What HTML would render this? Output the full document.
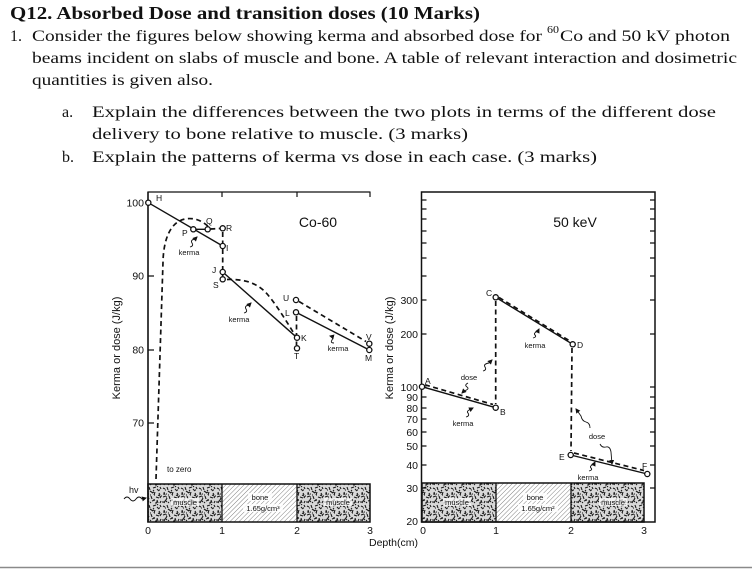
<!DOCTYPE html>
<html><head><meta charset="utf-8">
<style>
html,body{margin:0;padding:0;background:#fff;}
svg{display:block;}
.s{font-family:"Liberation Serif",serif;fill:#111;}
.h{font-family:"Liberation Sans",sans-serif;fill:#111;}
</style></head>
<body>
<svg width="752" height="569" viewBox="0 0 752 569" xmlns="http://www.w3.org/2000/svg">
<defs>
  <pattern id="mus" width="18" height="18" patternUnits="userSpaceOnUse">
    <rect width="18" height="18" fill="#d8d8d8"/>
    <path d="M1,2 l2,1 M5,1 l1,3 M9,2 l3,-1 M13,3 l2,2 M2,6 l1,3 M6,5 l3,2 M11,6 l-1,3 M15,7 l1,2 M1,11 l3,-1 M7,10 l1,3 M12,11 l3,1 M3,14 l2,2 M8,15 l3,-1 M13,14 l1,3 M16,12 l1,-2 M4,8 l1,0 M10,13 l0,1 M0,16 l2,0 M16,1 l1,2 M8,7 l2,-1 M5,12 l-1,2 M14,9 l2,1 M11,17 l2,0 M2,17 l1,-2 M17,15 l-1,2 M9,4 l1,1 M6,16 l1,1 M13,0 l1,1" stroke="#1a1a1a" stroke-width="1.1" fill="none"/>
    <path d="M3,4 h0.8 M10,9 h0.8 M15,4 h0.8 M6,9 h0.8 M12,16 h0.8 M1,8 h0.8 M17,10 h0.8 M4,11 h0.8" stroke="#111" stroke-width="1.2"/>
  </pattern>
  <pattern id="bone" width="3.2" height="3.2" patternUnits="userSpaceOnUse" patternTransform="rotate(45)">
    <rect width="3.2" height="3.2" fill="#fff"/>
    <line x1="0" y1="0" x2="0" y2="3.2" stroke="#666" stroke-width="0.8"/>
  </pattern>
  <marker id="ar" markerWidth="5" markerHeight="5" refX="4" refY="2.5" orient="auto" markerUnits="userSpaceOnUse">
    <path d="M0,0 L5,2.5 L0,5 z" fill="#111"/>
  </marker>
</defs>

<!-- ===== Text block ===== -->
<text class="s" x="10" y="19" font-size="18" font-weight="bold" textLength="470" lengthAdjust="spacingAndGlyphs">Q12. Absorbed Dose and transition doses (10 Marks)</text>
<text class="s" x="10" y="41" font-size="16">1.</text>
<text class="s" x="32" y="41" font-size="16" textLength="510" lengthAdjust="spacingAndGlyphs">Consider the figures below showing kerma and absorbed dose for</text>
<text class="s" x="547" y="33" font-size="10" textLength="12" lengthAdjust="spacingAndGlyphs">60</text>
<text class="s" x="560" y="41" font-size="16" textLength="170" lengthAdjust="spacingAndGlyphs">Co and 50 kV photon</text>
<text class="s" x="32" y="63" font-size="16" textLength="705" lengthAdjust="spacingAndGlyphs">beams incident on slabs of muscle and bone. A table of relevant interaction and dosimetric</text>
<text class="s" x="32" y="85" font-size="16" textLength="181" lengthAdjust="spacingAndGlyphs">quantities is given also.</text>
<text class="s" x="62" y="117" font-size="16">a.</text>
<text class="s" x="92" y="117" font-size="16" textLength="624" lengthAdjust="spacingAndGlyphs">Explain the differences between the two plots in terms of the different dose</text>
<text class="s" x="92" y="139" font-size="16" textLength="376" lengthAdjust="spacingAndGlyphs">delivery to bone relative to muscle. (3 marks)</text>
<text class="s" x="62" y="162" font-size="16">b.</text>
<text class="s" x="92" y="162" font-size="16" textLength="505" lengthAdjust="spacingAndGlyphs">Explain the patterns of kerma vs dose in each case. (3 marks)</text>

<!-- ===== LEFT CHART (Co-60) ===== -->
<g>
  <rect x="148" y="484" width="74" height="38" fill="url(#mus)"/>
  <rect x="222" y="484" width="75" height="38" fill="url(#bone)"/>
  <rect x="297" y="484" width="73" height="38" fill="url(#mus)"/>
  <rect x="148" y="484" width="222" height="38" fill="none" stroke="#111" stroke-width="1.5"/>
  <line x1="222" y1="484" x2="222" y2="522" stroke="#111" stroke-width="1.3"/>
  <line x1="297" y1="484" x2="297" y2="522" stroke="#111" stroke-width="1.3"/>
  <rect x="171" y="498" width="28" height="8" fill="#fff" opacity="0.7"/>
  <text class="h" x="185" y="505" font-size="7.5" text-anchor="middle">muscle</text>
  <rect x="248" y="493" width="24" height="8" fill="#fff" opacity="0.8"/>
  <text class="h" x="260" y="500" font-size="7.5" text-anchor="middle">bone</text>
  <rect x="243" y="504" width="40" height="8" fill="#fff" opacity="0.8"/>
  <text class="h" x="263" y="511" font-size="7.5" text-anchor="middle">1.65g/cm³</text>
  <rect x="324" y="498" width="28" height="8" fill="#fff" opacity="0.7"/>
  <text class="h" x="338" y="505" font-size="7.5" text-anchor="middle">muscle</text>

  <line x1="148" y1="191.5" x2="148" y2="522.5" stroke="#111" stroke-width="1.6"/>
  <line x1="148" y1="192" x2="370.5" y2="192" stroke="#111" stroke-width="1.2"/>
  <path d="M222,192 v5 M297,192 v5 M370,192 v5" stroke="#111" stroke-width="1.2"/>
  <path d="M148,276 h6 M148,350 h6 M148,423 h6" stroke="#111" stroke-width="1.2"/>
  <text class="h" x="144" y="206.5" font-size="10.5" text-anchor="end">100</text>
  <text class="h" x="144" y="279.5" font-size="10.5" text-anchor="end">90</text>
  <text class="h" x="144" y="353.5" font-size="10.5" text-anchor="end">80</text>
  <text class="h" x="144" y="426.5" font-size="10.5" text-anchor="end">70</text>
  <text class="h" font-size="11" text-anchor="middle" transform="translate(120,348) rotate(-90)">Kerma or dose (J/kg)</text>
  <text class="h" x="148" y="534" font-size="10.5" text-anchor="middle">0</text>
  <text class="h" x="222" y="534" font-size="10.5" text-anchor="middle">1</text>
  <text class="h" x="297" y="534" font-size="10.5" text-anchor="middle">2</text>
  <text class="h" x="370" y="534" font-size="10.5" text-anchor="middle">3</text>

  <text class="h" x="129" y="493" font-size="9">hv</text>
  <path d="M124,499 q3,-4 6,0 q3,4 6,0 q3,-4 6,0 l4,-1" stroke="#111" stroke-width="0.9" fill="none" marker-end="url(#ar)"/>

  <g stroke="#111" stroke-width="1.7" fill="none" stroke-dasharray="5,3.5">
    <path d="M156,479 L163,262 C163.5,240 170,222 185,219 C196,217 204,222 211,229 L220,228.5"/>
    <path d="M222.7,232 L222.7,276"/>
    <path d="M227,279.5 C245,279 258,283 268,295 C278,307 288,324 295,335"/>
    <path d="M296.5,316 L296.5,345"/>
    <path d="M299,301.5 L366,341.5"/>
  </g>
  <g stroke="#111" stroke-width="1.4" fill="none">
    <path d="M148.3,202.7 L222.7,246"/>
    <path d="M222.7,272 L297,337.7"/>
    <path d="M296,312.3 L369.3,350"/>
    <path d="M196,229.3 L205,229.3"/>
  </g>
  <g fill="#fff" stroke="#111" stroke-width="1.3">
    <circle cx="148.3" cy="202.7" r="2.6"/>
    <circle cx="193.3" cy="229.3" r="2.6"/>
    <circle cx="207.7" cy="229.3" r="2.6"/>
    <circle cx="222.7" cy="228.3" r="2.6"/>
    <circle cx="222.7" cy="246" r="2.6"/>
    <circle cx="222.7" cy="272" r="2.6"/>
    <circle cx="222.7" cy="279.3" r="2.6"/>
    <circle cx="297" cy="337.7" r="2.6"/>
    <circle cx="297" cy="348.3" r="2.6"/>
    <circle cx="296" cy="312.3" r="2.6"/>
    <circle cx="296" cy="300" r="2.6"/>
    <circle cx="369.3" cy="343.7" r="2.6"/>
    <circle cx="369.3" cy="350" r="2.6"/>
  </g>
  <g class="h" font-size="8.5">
    <text x="156" y="201">H</text>
    <text x="182" y="236">P</text>
    <text x="206" y="224">Q</text>
    <text x="226" y="231">R</text>
    <text x="226" y="251">I</text>
    <text x="212" y="273">J</text>
    <text x="213" y="288">S</text>
    <text x="301" y="341">K</text>
    <text x="294" y="359">T</text>
    <text x="285" y="316">L</text>
    <text x="283" y="301">U</text>
    <text x="366" y="340">V</text>
    <text x="365" y="361">M</text>
  </g>
  <g class="h" font-size="7.5" text-anchor="middle">
    <text x="189" y="255">kerma</text>
    <text x="239" y="322">kerma</text>
    <text x="338" y="351">kerma</text>
  </g>
  <g stroke="#111" stroke-width="0.9" fill="none" marker-end="url(#ar)">
    <path d="M190,247 q4,-1 2,-4 q-2,-3 3,-4 l2,-2"/>
    <path d="M244,313 q4,-1 2,-4 q-2,-3 3,-4 l2,-2"/>
    <path d="M334,343 q-4,0 -2,-3 q2,-3 -2,-4"/>
  </g>
  <text class="h" x="318" y="227" font-size="14" text-anchor="middle">Co-60</text>
  <text class="h" x="167" y="472" font-size="8">to zero</text>
</g>

<!-- ===== RIGHT CHART (50 keV) ===== -->
<g>
  <rect x="422" y="483" width="74" height="39" fill="url(#mus)"/>
  <rect x="496" y="483" width="75" height="39" fill="url(#bone)"/>
  <rect x="571" y="483" width="73" height="39" fill="url(#mus)"/>
  <rect x="422" y="483" width="222" height="39" fill="none" stroke="#111" stroke-width="1.5"/>
  <line x1="496" y1="483" x2="496" y2="522" stroke="#111" stroke-width="1.3"/>
  <line x1="571" y1="483" x2="571" y2="522" stroke="#111" stroke-width="1.3"/>
  <rect x="443" y="498" width="28" height="8" fill="#fff" opacity="0.7"/>
  <text class="h" x="457" y="505" font-size="7.5" text-anchor="middle">muscle</text>
  <rect x="523" y="493" width="24" height="8" fill="#fff" opacity="0.8"/>
  <text class="h" x="535" y="500" font-size="7.5" text-anchor="middle">bone</text>
  <rect x="518" y="504" width="40" height="8" fill="#fff" opacity="0.8"/>
  <text class="h" x="538" y="511" font-size="7.5" text-anchor="middle">1.65g/cm²</text>
  <rect x="599" y="498" width="28" height="8" fill="#fff" opacity="0.7"/>
  <text class="h" x="613" y="505" font-size="7.5" text-anchor="middle">muscle</text>

  <rect x="421.5" y="192" width="233.5" height="330" fill="none" stroke="#111" stroke-width="1.5"/>
  <path d="M421.5,200 h5 M421.5,209 h5 M421.5,219 h5 M421.5,231 h5 M421.5,243 h5 M421.5,258 h5 M421.5,276 h5 M421.5,300 h5 M421.5,334 h5 M421.5,387 h5 M421.5,397 h5 M421.5,408 h5 M421.5,419 h5 M421.5,432 h5 M421.5,446 h5 M421.5,465 h5 M421.5,488 h5"
        stroke="#111" stroke-width="1.2"/>
  <path d="M655,200 h-5 M655,209 h-5 M655,219 h-5 M655,231 h-5 M655,243 h-5 M655,258 h-5 M655,276 h-5 M655,300 h-5 M655,334 h-5 M655,387 h-5 M655,397 h-5 M655,408 h-5 M655,419 h-5 M655,432 h-5 M655,446 h-5 M655,465 h-5 M655,488 h-5"
        stroke="#111" stroke-width="1.2"/>
  <g class="h" font-size="10.5" text-anchor="end">
    <text x="418" y="304">300</text>
    <text x="418" y="338">200</text>
    <text x="418" y="391">100</text>
    <text x="418" y="401">90</text>
    <text x="418" y="412">80</text>
    <text x="418" y="423">70</text>
    <text x="418" y="436">60</text>
    <text x="418" y="450">50</text>
    <text x="418" y="469">40</text>
    <text x="418" y="492">30</text>
    <text x="418" y="525">20</text>
  </g>
  <text class="h" font-size="11" text-anchor="middle" transform="translate(393,348) rotate(-90)">Kerma or dose (J/kg)</text>
  <g class="h" font-size="10.5" text-anchor="middle">
    <text x="423" y="534">0</text>
    <text x="496" y="534">1</text>
    <text x="571" y="534">2</text>
    <text x="644" y="534">3</text>
  </g>
  <text class="h" x="369" y="546" font-size="10.5">Depth(cm)</text>

  <g stroke="#111" stroke-width="1.7" fill="none" stroke-dasharray="5,3.5">
    <path d="M425,384.8 L493,404.5"/>
    <path d="M495.7,301 L495.7,404"/>
    <path d="M499,297.5 L569,340.5"/>
    <path d="M572,348 L571,451"/>
    <path d="M574,453 L644,470.5"/>
  </g>
  <g stroke="#111" stroke-width="1.4" fill="none">
    <path d="M422,386.7 L495.7,407.7"/>
    <path d="M495.7,297.3 L572.7,344.3"/>
    <path d="M570.7,455 L647.3,474"/>
  </g>
  <g fill="#fff" stroke="#111" stroke-width="1.3">
    <circle cx="422" cy="386.7" r="2.6"/>
    <circle cx="495.7" cy="407.7" r="2.6"/>
    <circle cx="495.7" cy="297.3" r="2.6"/>
    <circle cx="572.7" cy="344.3" r="2.6"/>
    <circle cx="570.7" cy="455" r="2.6"/>
    <circle cx="647.3" cy="474" r="2.6"/>
  </g>
  <g class="h" font-size="8.5">
    <text x="425" y="384">A</text>
    <text x="500" y="415">B</text>
    <text x="486" y="296">C</text>
    <text x="577" y="348">D</text>
    <text x="559" y="460">E</text>
    <text x="642" y="469">F</text>
  </g>
  <g class="h" font-size="7.5" text-anchor="middle">
    <text x="469" y="380">dose</text>
    <text x="463" y="426">kerma</text>
    <text x="535" y="348">kerma</text>
    <text x="597" y="439">dose</text>
    <text x="588" y="480">kerma</text>
  </g>
  <g stroke="#111" stroke-width="0.9" fill="none" marker-end="url(#ar)">
    <path d="M468,383 q-4,2 -1,4 q3,2 -3,4 l-2,2"/>
    <path d="M466,417 q4,-1 2,-4 q-2,-2 3,-4 l2,-1"/>
    <path d="M533,338 q4,-1 2,-3 q-2,-2 3,-4 l1,-2"/>
    <path d="M483,371 q4,-1 2,-4 q-2,-3 4,-4 l3,-3"/>
    <path d="M590,428 q0,-5 -4,-6 q-4,-1 -5,-6 l-5,-7"/>
    <path d="M600,444 q2,4 6,3 q4,-1 5,5 l1,12"/>
    <path d="M589,471 q4,-1 2,-3 q-2,-2 3,-4 l1,-2"/>
  </g>
  <text class="h" x="575" y="227" font-size="14" text-anchor="middle">50 keV</text>
</g>

<line x1="0" y1="567.5" x2="752" y2="567.5" stroke="#8a8a8a" stroke-width="1.5"/>
</svg>
</body></html>
